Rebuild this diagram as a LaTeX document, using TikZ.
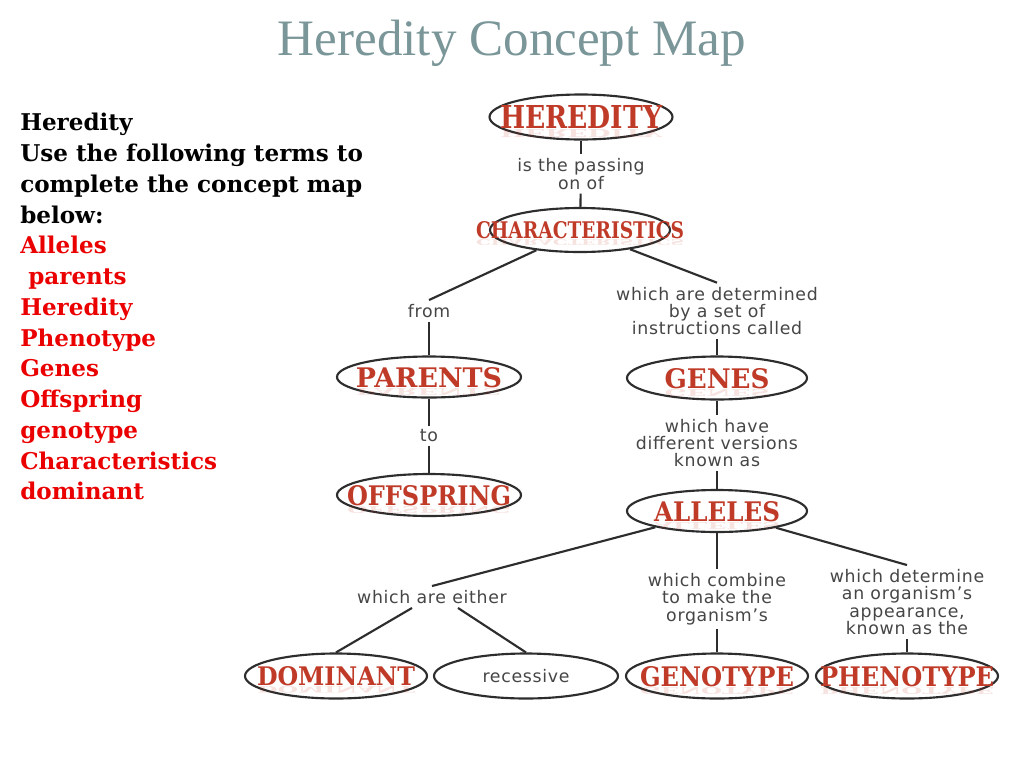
\documentclass[tikz,border=0pt]{standalone}
\usepackage{fontspec}
\setmainfont{Liberation Serif}
\newfontfamily\labfont[LetterSpace=4]{DejaVu Sans}
\newfontfamily\termfont{DejaVu Serif}
\newfontfamily\wordfont{DejaVu Serif}
\usetikzlibrary{shapes.geometric}
\definecolor{titlecol}{RGB}{122,150,152}
\definecolor{termred}{RGB}{235,0,0}
\definecolor{wordred}{RGB}{192,58,40}
\definecolor{linecol}{RGB}{45,45,45}
\definecolor{labcol}{RGB}{70,70,70}
\newcommand{\wordbox}[3]{\resizebox{#1}{#2}{\wordfont\bfseries #3}}
\newcommand{\concept}[8]{%
 \node[conc, minimum width=#4, minimum height=#5] (#1) at (#2,#3)
   {\makebox[0pt]{\smash{\raisebox{-0.5\height}{\wordbox{#6}{#7}{#8}}}}};
 \node[refl] at ([yshift=-0.5*#7-0.8pt]#1.center) {\scalebox{1}[-0.35]{\wordbox{#6}{#7}{#8}}};
}
\tikzset{
 conc/.style={ellipse, draw=linecol, line width=1.6pt, inner sep=0pt, text=wordred},
 refl/.style={anchor=north, inner sep=0pt, text=wordred, text opacity=0.14},
 lab/.style={font=\labfont\fontsize{13}{13}\selectfont, text=labcol, align=center, inner sep=3pt},
 link/.style={draw=linecol, line width=1.6pt},
}
\begin{document}
\begin{tikzpicture}[x=0.75pt, y=-0.75pt]
\useasboundingbox[fill=white] (0,0) rectangle (1024,768);
% title
\node[text=titlecol] (title) at (512,43) {\resizebox{351pt}{!}{Heredity Concept Map}};
% term list
\node[anchor=north west, align=left, inner sep=0pt,
      font=\termfont\bfseries\fontsize{17.3}{23.06}\selectfont] (terms) at (20,113)
 {Heredity\\
  Use the following terms to\\
  complete the concept map\\
  below:\\
  \textcolor{termred}{Alleles}\\
  \textcolor{termred}{\ parents}\\
  \textcolor{termred}{Heredity}\\
  \textcolor{termred}{Phenotype}\\
  \textcolor{termred}{Genes}\\
  \textcolor{termred}{Offspring}\\
  \textcolor{termred}{genotype}\\
  \textcolor{termred}{Characteristics}\\
  \textcolor{termred}{dominant}};
% concepts
\concept{her}{581}{117}{137.25pt}{33.75pt}{121.5pt}{17.25pt}{HEREDITY}
\concept{char}{580}{230}{135pt}{33pt}{156pt}{12.75pt}{CHARACTERISTICS}
\concept{par}{429}{377}{138pt}{30.75pt}{109.5pt}{15pt}{PARENTS}
\concept{off}{429}{495}{138pt}{31.5pt}{123pt}{15pt}{OFFSPRING}
\concept{genes}{717}{378}{135pt}{32.25pt}{78.75pt}{15pt}{GENES}
\concept{all}{717}{511}{135pt}{31.5pt}{94.5pt}{15pt}{ALLELES}
\concept{dom}{336}{676}{136.5pt}{33.75pt}{118.5pt}{14.25pt}{DOMINANT}
\node[conc, minimum width=138pt, minimum height=33.75pt, text=labcol,
      font=\labfont\fontsize{13}{13}\selectfont] (rec) at (526,676) {recessive};
\concept{geno}{717}{676}{136.5pt}{33.75pt}{115.5pt}{15pt}{GENOTYPE}
\concept{pheno}{907}{676}{136.5pt}{33.75pt}{130.5pt}{15pt}{PHENOTYPE}
% labels
\node[lab] (pass) at (581,174) {is the passing\\on of};
\node[lab] (from) at (429,311) {from};
\node[lab] (to) at (429,436) {to};
\node[lab] (det) at (717,311) {which are determined\\by a set of\\instructions called};
\node[lab] (have) at (717,443) {which have\\different versions\\known as};
\node[lab] (either) at (432,597) {which are either};
\node[lab] (comb) at (717,599) {which combine\\to make the\\organism’s};
\node[lab] (detm) at (907,602) {which determine\\an organism’s\\appearance,\\known as the};
% connectors
\draw[link] (her) -- (pass);
\draw[link] (pass) -- (char);
\draw[link] (char) -- (from.north);
\draw[link] (from) -- (par);
\draw[link] (par) -- (to);
\draw[link] (to) -- (off);
\draw[link] (char) -- (det.north);
\draw[link] (det) -- (genes);
\draw[link] (genes) -- (have);
\draw[link] (have) -- (all);
\draw[link] (all) -- (either.north);
\draw[link] ([xshift=-15pt]either.south) -- (dom.north);
\draw[link] ([xshift=19.5pt]either.south) -- (rec.north);
\draw[link] (all) -- (comb);
\draw[link] (comb) -- (geno);
\draw[link] (all) -- (detm.north);
\draw[link] (detm) -- (pheno);
\end{tikzpicture}
\end{document}
